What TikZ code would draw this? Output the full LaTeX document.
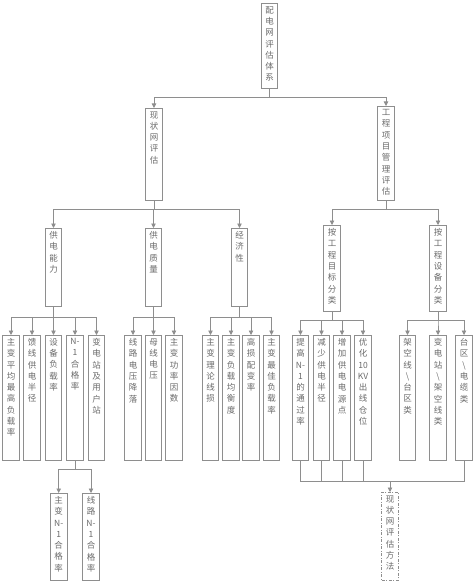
\documentclass[tikz,border=0pt]{standalone}
\usepackage{fontspec}
\newfontfamily\cjk{Noto Sans CJK SC}
\usepackage{tikz}
\usetikzlibrary{arrows.meta}
\definecolor{linegray}{HTML}{8E8E8E}
\definecolor{textgray}{HTML}{6A6A6A}
\newcommand{\vt}[2]{\parbox[c][#1][t]{14pt}{\centering #2}}

\begin{document}
\begin{tikzpicture}[x=1pt,y=-1pt,>={Triangle[length=4.5pt,width=4.5pt]},
    box/.style={draw=linegray,line width=0.7pt,anchor=north,inner xsep=1.25pt,inner ysep=3pt,
      font=\cjk\fontsize{8.5}{11.3}\selectfont,text=textgray},
    every edge/.style={draw=linegray,line width=0.7pt},
    bus/.style={to path={-- ++(0,#1) -| (\tikztotarget)}},
    merge/.style={to path={|- (\tikztotarget)}}]
  \useasboundingbox (0,0) rectangle (474,583);
  % root and first level
  \node[box] (root) at (269.5,3) {\vt{79pt}{配\\电\\网\\评\\估\\体\\系}};
  \node[box] (status) at (154,108) {\vt{86pt}{现\\状\\网\\评\\估}};
  \node[box] (project) at (386,106) {\vt{88pt}{工\\程\\项\\目\\管\\理\\评\\估}};
  % second level
  \node[box] (ability) at (53.5,228) {\vt{72pt}{供\\电\\能\\力}};
  \node[box] (quality) at (153.5,228) {\vt{72pt}{供\\电\\质\\量}};
  \node[box] (economy) at (239.5,228) {\vt{72pt}{经\\济\\性}};
  \node[box] (target) at (332,225) {\vt{80pt}{按\\工\\程\\目\\标\\分\\类}};
  \node[box] (equip) at (438,225) {\vt{80pt}{按\\工\\程\\设\\备\\分\\类}};
  % leaves
  \node[box] (a1) at (11,335) {\vt{119pt}{主\\变\\平\\均\\最\\高\\负\\载\\率}};
  \node[box] (a2) at (32,335) {\vt{119pt}{馈\\线\\供\\电\\半\\径}};
  \node[box] (a3) at (53.5,335) {\vt{119pt}{设\\备\\负\\载\\率}};
  \node[box] (a4) at (75,335) {\vt{119pt}{N-\\1\\合\\格\\率}};
  \node[box] (a5) at (96.5,335) {\vt{119pt}{变\\电\\站\\及\\用\\户\\站}};
  \node[box] (b1) at (133,335) {\vt{119pt}{线\\路\\电\\压\\降\\落}};
  \node[box] (b2) at (153.5,335) {\vt{119pt}{母\\线\\电\\压}};
  \node[box] (b3) at (174,335) {\vt{119pt}{主\\变\\功\\率\\因\\数}};
  \node[box] (c1) at (210.5,335) {\vt{119pt}{主\\变\\理\\论\\线\\损}};
  \node[box] (c2) at (231,335) {\vt{119pt}{主\\变\\负\\载\\均\\衡\\度}};
  \node[box] (c3) at (251,335) {\vt{119pt}{高\\损\\配\\变\\率}};
  \node[box] (c4) at (271.5,335) {\vt{119pt}{主\\变\\最\\佳\\负\\载\\率}};
  \node[box] (t1) at (300.5,335) {\vt{119pt}{提\\高\\N-\\1\\的\\通\\过\\率}};
  \node[box] (t2) at (321.5,335) {\vt{119pt}{减\\少\\供\\电\\半\\径}};
  \node[box] (t3) at (342,335) {\vt{119pt}{增\\加\\供\\电\\电\\源\\点}};
  \node[box] (t4) at (363,335) {\vt{119pt}{优\\化\\10\\KV\\出\\线\\仓\\位}};
  \node[box] (d1) at (407.5,335) {\vt{119pt}{架\\空\\线\\\textbackslash\\台\\区\\类}};
  \node[box] (d2) at (438,335) {\vt{119pt}{变\\电\\站\\\textbackslash\\架\\空\\线\\类}};
  \node[box] (d3) at (464,335) {\vt{119pt}{台\\区\\\textbackslash\\电\\缆\\类}};
  % bottom row
  \node[box] (a41) at (58.7,493) {\vt{81pt}{主\\变\\N-\\1\\合\\格\\率}};
  \node[box] (a42) at (91,493) {\vt{81pt}{线\\路\\N-\\1\\合\\格\\率}};
  \node[box,dash pattern=on 3pt off 1.5pt on 1pt off 1.5pt] (method) at (390,492)
    {\vt{82pt}{现\\状\\网\\评\\估\\方\\法}};
  \coordinate (join) at (390,481);

  \path[->] (root.south) edge[bus=9] (status.north)
    edge[bus=9] (project.north);
  \path[->] (status.south) edge[bus=9] (ability.north)
    edge[bus=9] (quality.north) edge[bus=9] (economy.north);
  \path[->] (project.south) edge[bus=9] (target.north)
    edge[bus=9] (equip.north);
  \path[->] (ability.south) edge[bus=11] (a1.north) edge[bus=11] (a2.north)
    edge[bus=11] (a3.north) edge[bus=11] (a4.north) edge[bus=11] (a5.north);
  \path[->] (quality.south) edge[bus=11] (b1.north) edge[bus=11] (b2.north)
    edge[bus=11] (b3.north);
  \path[->] (economy.south) edge[bus=11] (c1.north) edge[bus=11] (c2.north)
    edge[bus=11] (c3.north) edge[bus=11] (c4.north);
  \path[->] (target.south) edge[bus=9] (t1.north) edge[bus=9] (t2.north)
    edge[bus=9] (t3.north) edge[bus=9] (t4.north);
  \path[->] (equip.south) edge[bus=9] (d1.north) edge[bus=9] (d2.north)
    edge[bus=9] (d3.north);
  \path[->] (a4.south) edge[bus=9] (a41.north) edge[bus=9] (a42.north);
  \path (t1.south) edge[merge] (join) (t2.south) edge[merge] (join)
    (t3.south) edge[merge] (join) (t4.south) edge[merge] (join)
    (d3.south) edge[merge] (join);
  \path[->] (join) edge (method.north);
\end{tikzpicture}
\end{document}
